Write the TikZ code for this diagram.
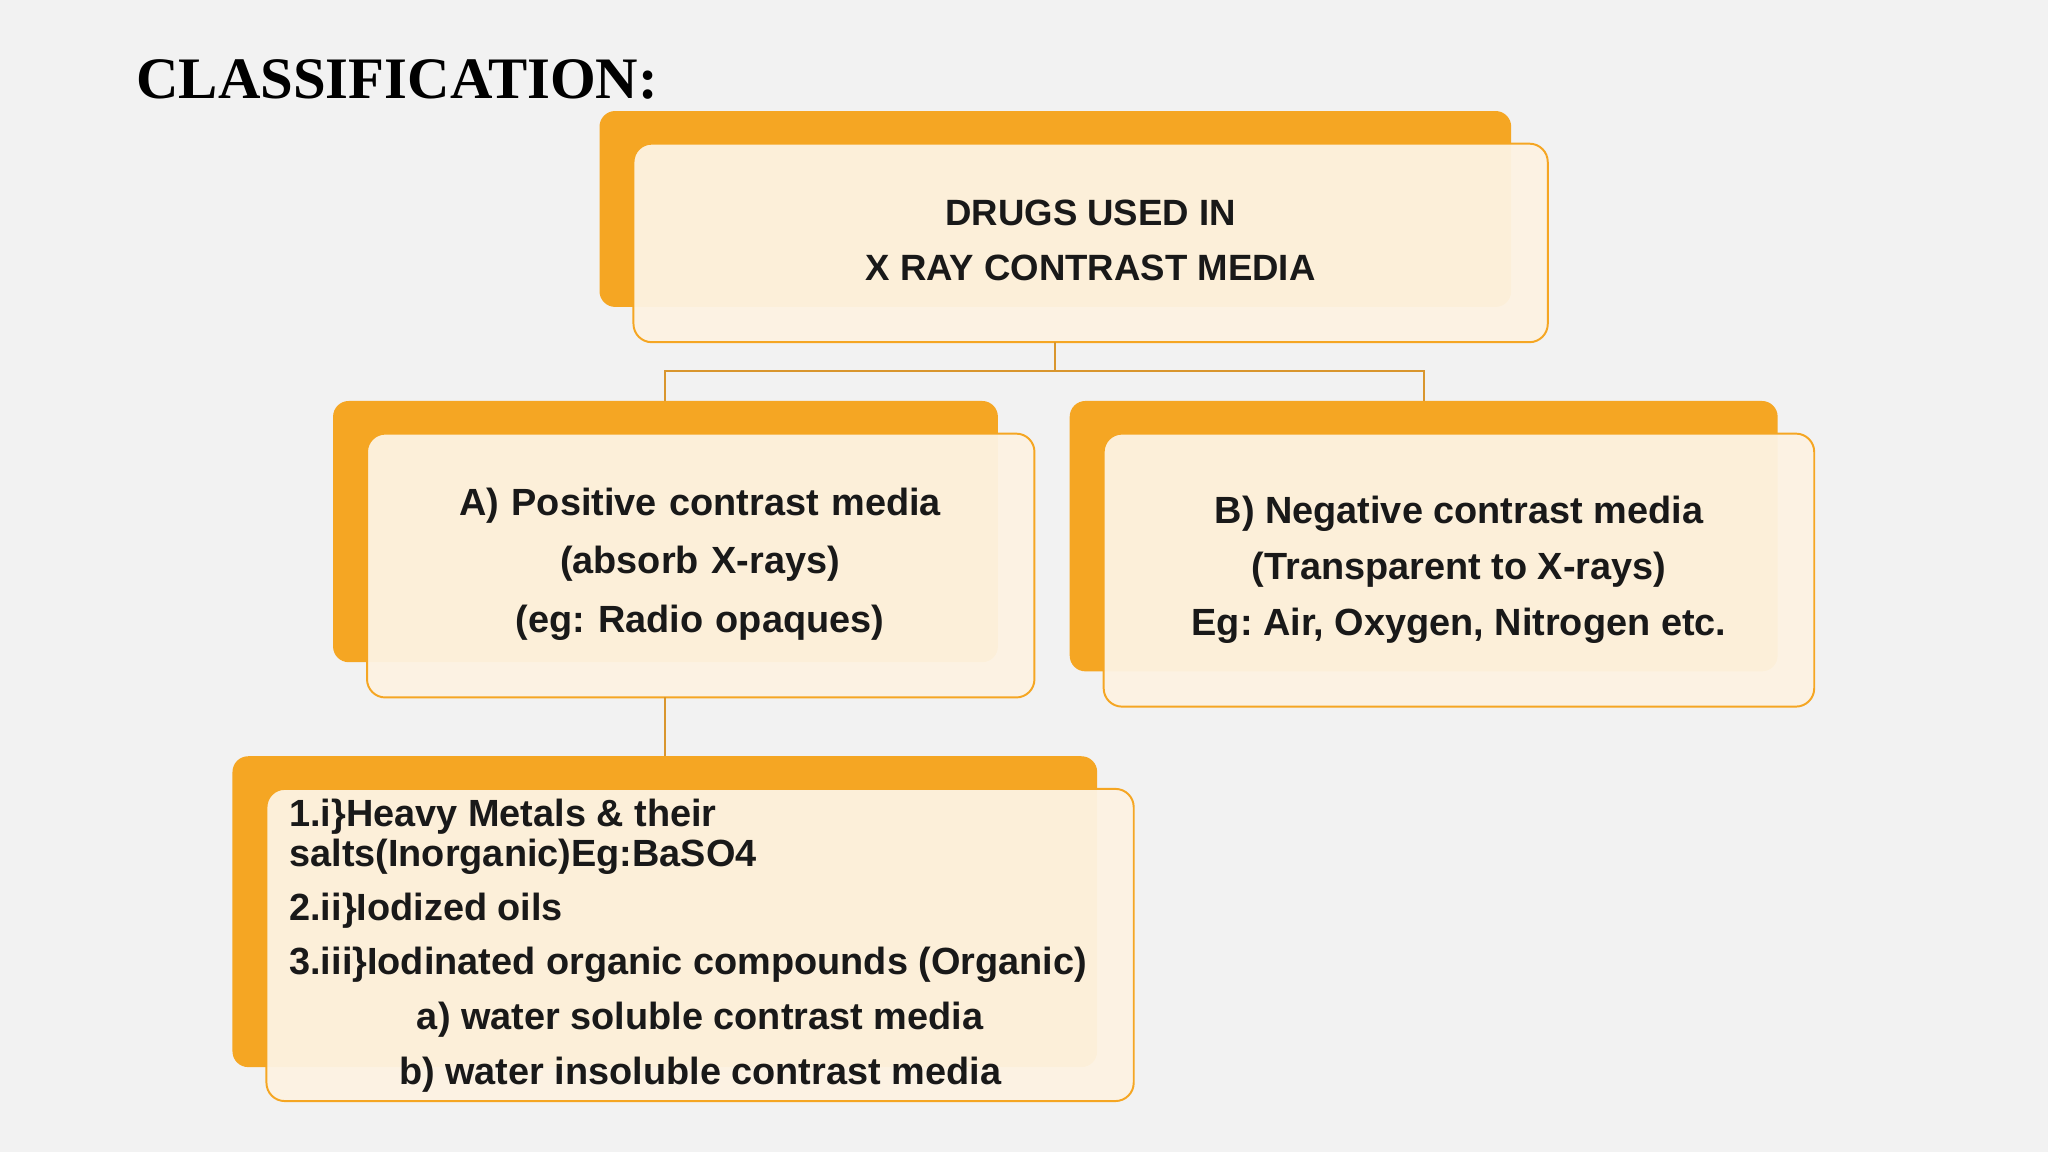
\documentclass[tikz,border=0pt]{standalone}
\usepackage{fontspec}
\setmainfont{Liberation Sans}
\newfontfamily\titlefont{Liberation Serif}
\definecolor{bg}{HTML}{F2F2F2}
\definecolor{org}{HTML}{F5A623}
\definecolor{cream}{HTML}{FDF3E3}
\definecolor{lineo}{HTML}{D9962E}
\tikzset{
  backbox/.style={fill=org, rounded corners=12pt},
  frontbox/.style={draw=org, line width=1.5pt, fill=cream, fill opacity=0.95, rounded corners=14pt},
  txt/.style={font=\fontsize{29}{43}\selectfont\bfseries, align=center, text=black!90},
  conn/.style={draw=lineo, line width=1.5pt}
}
\begin{document}
\frenchspacing
\begin{tikzpicture}[x=1pt,y=-1pt]
\fill[bg] (0,0) rectangle (1568,882);
\useasboundingbox (0,0) rectangle (1568,882);
\node[anchor=west, font=\titlefont\fontsize{45}{50}\selectfont\bfseries] (title) at (101,61) {CLASSIFICATION:};
% top
\fill[backbox] (459,85) rectangle (1157,235);
\draw[frontbox] (485,110) rectangle (1185,262);
\node[txt, font=\fontsize{28}{42}\selectfont\bfseries] (top) at (835,184) {DRUGS USED IN\\X RAY CONTRAST MEDIA};
\coordinate (topb) at (808,262);
% A
\fill[backbox] (255,307) rectangle (764,507);
\draw[frontbox] (281,332) rectangle (792,534);
\node[txt, text width=500pt, font=\fontsize{29}{44.5}\selectfont\bfseries] (A) at (536,432) {A) Positive contrast media\\(absorb X-rays)\\(eg: Radio opaques)};
% B
\fill[backbox] (819,307) rectangle (1361,514);
\draw[frontbox] (845,332) rectangle (1389,541);
\node[txt] (B) at (1117,436) {B) Negative contrast media\\(Transparent to X-rays)\\Eg: Air, Oxygen, Nitrogen etc.};
% C
\fill[backbox] (178,579) rectangle (840,817);
\draw[frontbox] (204,604) rectangle (868,843);
\node[txt, anchor=north west, align=left, font=\fontsize{29}{31}\selectfont\bfseries] (C1) at (218,608) {1.i\}Heavy Metals \& their\\salts(Inorganic)Eg:BaSO4};
\node[txt, anchor=west] (C2) at (218,697) {2.ii\}Iodized oils};
\node[txt, anchor=west] (C3) at (218,739) {3.iii\}Iodinated organic compounds (Organic)};
\node[txt] (C4) at (536,781) {a) water soluble contrast media};
\node[txt] (C5) at (536,823) {b) water insoluble contrast media};
% connectors
\coordinate (j1) at (808,284);
\coordinate (ja) at (509,284);
\coordinate (jb) at (1090,284);
\coordinate (ta) at (509,307);
\coordinate (tb) at (1090,307);
\draw[conn] (topb) -- (j1);
\draw[conn] (ta) -- (ja) -- (jb) -- (tb);
\coordinate (ab) at (509,534);
\coordinate (ct) at (509,579);
\draw[conn] (ab) -- (ct);
\end{tikzpicture}
\end{document}
